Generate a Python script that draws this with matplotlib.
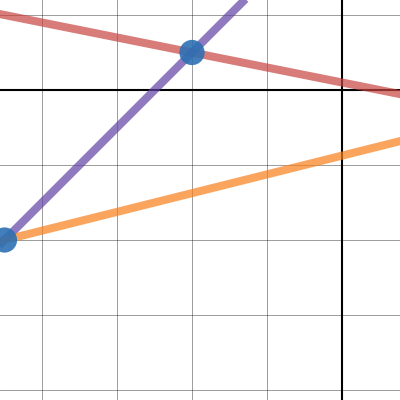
import matplotlib
matplotlib.use("Agg")
import matplotlib.pyplot as plt
import numpy as np

xmin, xmax = -4.56, 0.773
ymin, ymax = -4.133, 1.2
# lines: slope, intercept
lines = [(-0.2, 0.1, "#c74440"), (1.0, 2.5, "#6042a6"), (0.25, -0.875, "#fa7e19")]
pts_x = [-2.0, -4.5]
pts_y = [0.5, -2.0]

fig = plt.figure(figsize=(4, 4), dpi=100)
ax = fig.add_axes([0, 0, 1, 1])
ax.set_xlim(xmin, xmax); ax.set_ylim(ymin, ymax)
for g in np.arange(-4, 1.01, 1):
    ax.axvline(g, color="black", lw=0.6, alpha=0.45, zorder=0)
for g in np.arange(-4, 1.01, 1):
    ax.axhline(g, color="black", lw=0.6, alpha=0.45, zorder=0)
ax.axvline(0, color="black", lw=1.5, zorder=1)
ax.axhline(0, color="black", lw=1.5, zorder=1)
xs = np.array([xmin - 1, xmax + 1])
for m, b, c in lines:
    ax.plot(xs, m * xs + b, color=c, lw=5.8, alpha=0.7, zorder=2, solid_capstyle="butt")
ax.scatter(pts_x, pts_y, s=330, color="#2d70b3", alpha=0.9, zorder=3, edgecolors="none")
ax.axis("off")
fig.savefig("out.png")
